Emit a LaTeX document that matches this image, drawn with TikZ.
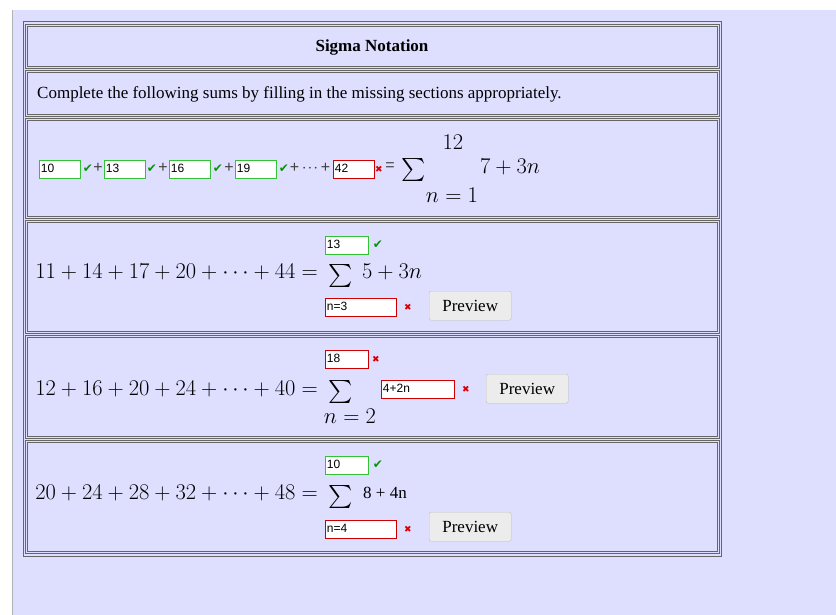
\documentclass[tikz,border=0pt]{standalone}
\usepackage{fontspec}
\setmainfont{Liberation Serif}
\newfontfamily\inpf{Liberation Sans}
\newfontfamily\symf{DejaVu Sans}
\newcommand{\mth}[1]{\scalebox{1.3}{$#1$}}
\newcommand{\bigsum}{\scalebox{2.3}{$\sum$}}
\begin{document}
\begin{tikzpicture}[x=1pt,y=-1pt,
  cell/.style={draw=gray!80!black,line width=0.8pt},
  okbox/.style={draw=green!70!black!80,line width=0.9pt,fill=white,minimum height=18pt,inner xsep=1.5pt,inner ysep=1pt,anchor=north west,font=\inpf\fontsize{12}{12}\selectfont,text height=9pt,text depth=2pt,text width=#1,align=left},
  badbox/.style={okbox=#1,draw=red!80!black},
  ok/.style={text=green!60!black,font=\symf\fontsize{12}{12}\selectfont,inner sep=0pt},
  bad/.style={text=red!85!black,font=\symf\fontsize{9}{9}\selectfont,inner sep=0pt},
  txt/.style={font=\fontsize{17}{20}\selectfont,inner sep=0pt},
  sm/.style={inner sep=0pt},
  pl/.style={font=\inpf\fontsize{16}{16}\selectfont,inner sep=0pt,text=black!75},
  btn/.style={draw=gray!50,fill=gray!15,rounded corners=2pt,minimum width=82pt,minimum height=29pt,font=\fontsize{17}{20}\selectfont,anchor=north west,inner sep=0pt}]
\useasboundingbox (0,0) rectangle (836,615);
\fill[white] (0,0) rectangle (836,615);
\fill[blue!13!white] (12,10) rectangle (836,615);
\draw[gray!60] (12,10) -- (12,615);
\draw[cell] (23,21) rectangle (721,556);
\foreach \a/\b in {24/68,70/116,118/218,220/333,335/438,440/553}{
  \draw[cell] (25,\a) rectangle (719,\b);
  \draw[cell] (27,\a+2) rectangle (717,\b-2);}
\node[txt,font=\bfseries\fontsize{17}{20}\selectfont] (title) at (372,47) {Sigma Notation};
\node[txt,anchor=west] (instr) at (37,94) {Complete the following sums by filling in the missing sections appropriately.};
% row 3
\node[okbox=38pt] (b1) at (39,160) {10};
\node[ok] (c1) at (88,169) {✔};
\node[pl] (p1) at (98,168) {+};
\node[okbox=38pt] (b2) at (104,160) {13};
\node[ok] (c2) at (152,169) {✔};
\node[pl] (p2) at (163,168) {+};
\node[okbox=38pt] (b3) at (169,160) {16};
\node[ok] (c3) at (218,169) {✔};
\node[pl] (p3) at (229,168) {+};
\node[okbox=38pt] (b4) at (235,160) {19};
\node[ok] (c4) at (284,169) {✔};
\node[pl] (p4) at (310,168) {+\,$\cdot\!\cdot\!\cdot$\,+};
\node[badbox=38pt] (b5) at (333,160) {42};
\node[bad] (x5) at (379,169) {✖};
\node[pl] (eq3) at (390,167) {=};
\node[sm] (s3) at (414,170) {\bigsum};
\node[txt] (u3) at (453,142) {\mth{12}};
\node[txt] (l3) at (452,195) {\mth{n=1}};
\node[txt,anchor=west] (f3) at (480,167) {\mth{7+3n}};
% row 4
\node[txt,anchor=east] (t4) at (318,272) {\mth{11+14+17+20+\cdots+44=}};
\node[okbox=40pt] (b6) at (325,236) {13};
\node[ok] (c6) at (378,245) {✔};
\node[sm] (s4) at (341,276) {\bigsum};
\node[txt,anchor=west] (f4) at (362,272) {\mth{5+3n}};
\node[badbox=68pt] (b7) at (325,298) {n=3};
\node[bad] (x7) at (408,307) {✖};
\node[btn] (pv1) at (429,291) {Preview};
% row 5
\node[txt,anchor=east] (t5) at (318,389) {\mth{12+16+20+24+\cdots+40=}};
\node[badbox=40pt] (b8) at (325,350) {18};
\node[bad] (x8) at (376,359) {✖};
\node[sm] (s5) at (341,392) {\bigsum};
\node[txt] (l5) at (350,416) {\mth{n=2}};
\node[badbox=70pt] (b9) at (381,380) {4+2n};
\node[bad] (x9) at (466,389) {✖};
\node[btn] (pv2) at (486,374) {Preview};
% row 6
\node[txt,anchor=east] (t6) at (318,493) {\mth{20+24+28+32+\cdots+48=}};
\node[okbox=40pt] (b10) at (325,456) {10};
\node[ok] (c10) at (378,465) {✔};
\node[sm] (s6) at (341,497) {\bigsum};
\node[txt,anchor=west] (f6) at (363,493) {8 + 4n};
\node[badbox=68pt] (b11) at (325,520) {n=4};
\node[bad] (x11) at (408,529) {✖};
\node[btn] (pv3) at (429,512) {Preview};
\end{tikzpicture}
\end{document}
